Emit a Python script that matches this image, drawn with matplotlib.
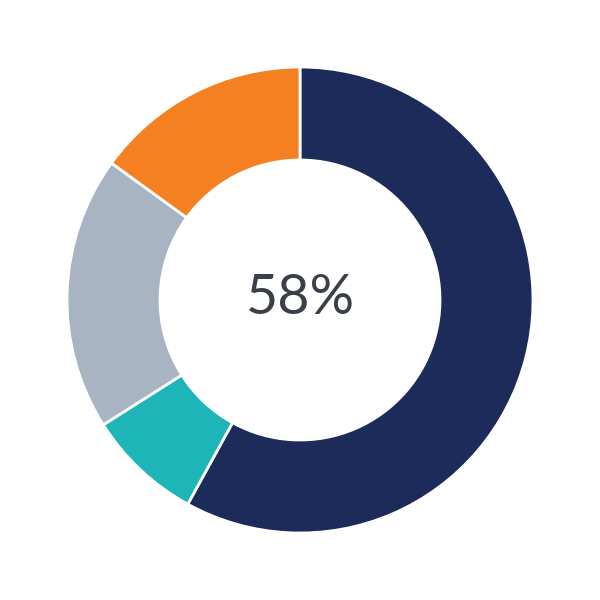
import matplotlib
matplotlib.use("Agg")
import matplotlib.pyplot as plt

labels = ["Navy", "Teal", "Gray", "Orange"]
values = [58, 8, 19, 15]
colors = ["#1c2b5a", "#1db5b8", "#a9b4c2", "#f58021"]
center_text = "58%"

fig = plt.figure(figsize=(6, 6), dpi=100)
ax = fig.add_axes([0, 0, 1, 1])
outer_r = 233 / 300
width = 93 / 300
ax.pie(values, colors=colors, startangle=90, counterclock=False, radius=outer_r,
       wedgeprops=dict(width=width, edgecolor="white", linewidth=2))
ax.text(0, 0.005, center_text, ha="center", va="center", fontsize=40,
        family=["Lato", "DejaVu Sans"], color="#3a3f4a")
ax.set_xlim(-1, 1)
ax.set_ylim(-1, 1)
ax.set_aspect("equal")
ax.axis("off")
fig.savefig("out.png", dpi=100, facecolor="white")
